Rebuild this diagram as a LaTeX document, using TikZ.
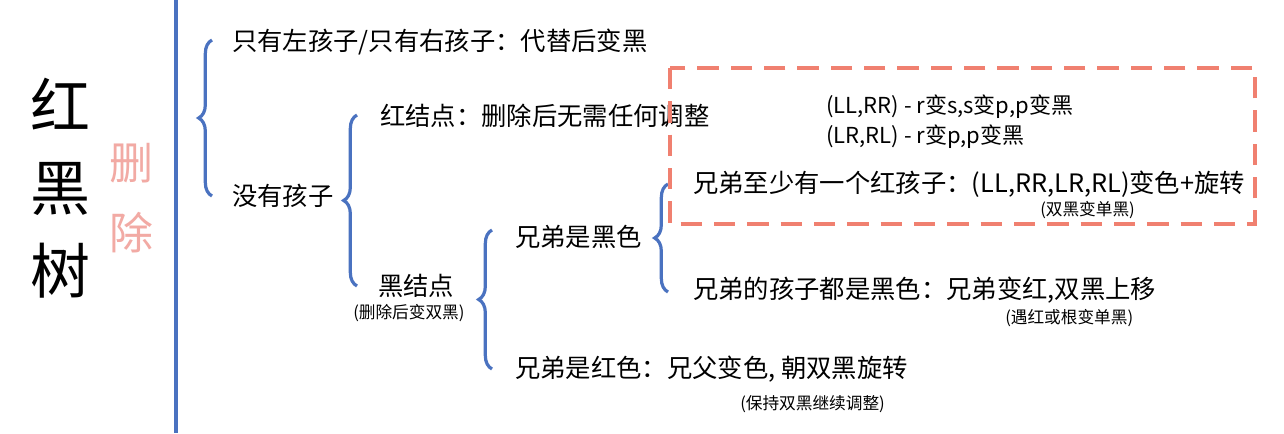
\documentclass[tikz,border=0pt]{standalone}
\usepackage{fontspec}
\setmainfont{Noto Sans CJK SC}
\usetikzlibrary{decorations.pathreplacing}
\definecolor{bl}{HTML}{4A72C0}
\definecolor{sal}{HTML}{F08070}
\definecolor{pk}{HTML}{F2AAA4}
\tikzset{
 br/.style={draw=bl,line width=2.4pt,decorate,decoration={brace,amplitude=10pt,mirror}},
 t/.style={anchor=west,inner sep=0pt,font=\fontsize{19pt}{21pt}\selectfont},
 s/.style={anchor=west,inner sep=0pt,font=\fontsize{12.5pt}{14pt}\selectfont},
}
\begin{document}
\begin{tikzpicture}[x=0.75pt,y=-0.75pt]
\useasboundingbox[fill=white] (0,0) rectangle (1284,433);
\draw[bl,line width=2.4pt] (176,0) -- (176,433);
\node[inner sep=0pt,align=center,font=\fontsize{45pt}{62pt}\selectfont] (title) at (60,188) {红\\黑\\树};
\node[inner sep=0pt,align=center,text=pk,font=\fontsize{33pt}{52pt}\selectfont] (del) at (131,198) {删\\除};
% brace 1
\draw[br] (212,40) -- (212,196);
\node[t] (a1) at (232,42) {只有左孩子/只有右孩子：代替后变黑};
\node[t] (a2) at (232,196) {没有孩子};
% brace 2
\draw[br] (357,115) -- (357,286);
\node[t] (b1) at (380,116) {红结点：删除后无需任何调整};
\node[t] (b2) at (378,286) {黑结点};
\node[s] (b3) at (353,313) {(删除后变双黑)};
% brace 3
\draw[br] (492,230) -- (492,369);
\node[t] (c1) at (515,237) {兄弟是黑色};
\node[t] (c2) at (515,369) {兄弟是红色：兄父变色, 朝双黑旋转};
\node[s] (c3) at (740,404) {(保持双黑继续调整)};
% brace 4
\draw[br] (668,184) -- (668,292);
\node[t] (d1) at (693,184) {兄弟至少有一个红孩子：(LL,RR,LR,RL)变色+旋转};
\node[s] (d2) at (1040,210) {(双黑变单黑)};
\node[t] (d3) at (693,290) {兄弟的孩子都是黑色：兄弟变红,双黑上移};
\node[s] (d4) at (1005,318) {(遇红或根变单黑)};
% dashed box
\draw[sal,line width=3pt,dash pattern=on 16pt off 9pt] (670,68) rectangle (1255,224);
\node[s,font=\fontsize{16.5pt}{18pt}\selectfont] (e1) at (826,107) {(LL,RR) - r变s,s变p,p变黑};
\node[s,font=\fontsize{16.5pt}{18pt}\selectfont] (e2) at (826,137) {(LR,RL) - r变p,p变黑};
\end{tikzpicture}
\end{document}
